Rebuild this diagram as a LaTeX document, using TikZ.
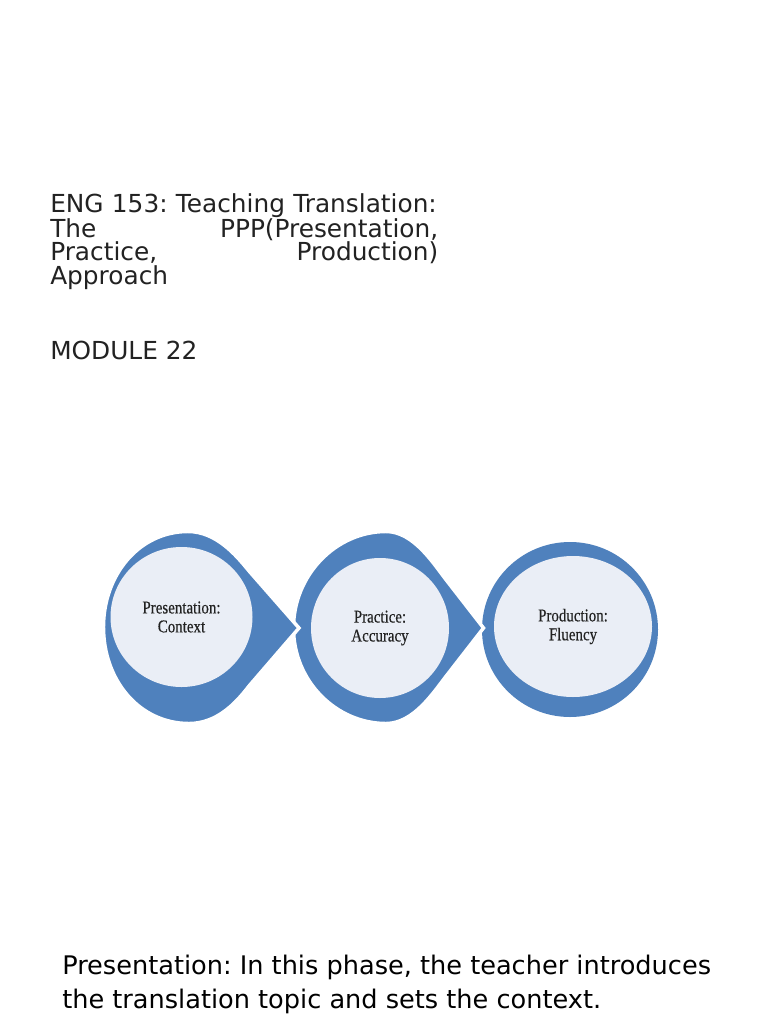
\documentclass[tikz,border=0pt]{standalone}
\usepackage{fontspec}
\setmainfont{DejaVu Sans}
\newfontfamily\stagefont[FakeStretch=0.83,FakeBold=0.4]{Liberation Serif}
\usepackage{tikz}
\usetikzlibrary{shapes.geometric}
\frenchspacing

\definecolor{pppblue}{RGB}{79,129,189}
\definecolor{ppplight}{RGB}{234,238,246}
\definecolor{headgray}{RGB}{34,34,34}

\tikzset{
    blob/.style={fill=pppblue, draw=white, line width=2.6pt},
    stage/.style={ellipse, fill=ppplight, inner sep=0pt, outer sep=0pt, align=center, text=headgray, font=\stagefont\fontsize{13.5}{14.2}\selectfont},
    heading/.style={anchor=base west, inner sep=0pt, text=headgray, font=\fontsize{18.6}{17.5}\selectfont}
}

\begin{document}
\begin{tikzpicture}[x=0.75pt,y=0.75pt,yscale=-1,xscale=1]
        \fill[white] (0,0) rectangle (768,1024);
        \useasboundingbox (0,0) rectangle (768,1024);

        % title block
        \node[heading, text width=291pt, align=left] (title) at (50,212) {\mbox{ENG 153: Teaching Translation:}\\The\hfill PPP(Presentation,\\Practice,\hfill Production)\\Approach};
        \node[heading] (module) at (50,359) {MODULE 22};

        % the three stages, drawn right to left so each tip cuts into the next one
        \fill[pppblue] (570,629.5) ellipse [x radius=88, y radius=87.5];
        \draw[blob] (483.5,628) -- (447,581) .. controls (434,564.5) and (414,531.5) .. (386,531.5) .. controls (336,531.5) and (293.5,575) .. (293.5,628) .. controls (293.5,681) and (336,723.5) .. (386,723.5) .. controls (414,723.5) and (434,691.5) .. (447,675) -- cycle;
        \draw[blob] (299,628) -- (249,571) .. controls (236,555) and (216,531.5) .. (188,531.5) .. controls (139,531.5) and (103.5,575) .. (103.5,627) .. controls (103.5,680) and (139,723.5) .. (189,723.5) .. controls (217,723.5) and (236,703) .. (249,686) -- cycle;

        \node[stage, minimum width=106.5pt, minimum height=105pt] (pres) at (181.5,617) {Presentation:\\Context};
        \node[stage, minimum width=103.5pt, minimum height=105pt] (prac) at (380,628) {Practice:\\Accuracy};
        \node[stage, minimum width=118.5pt, minimum height=105.75pt] (prod) at (573,626.5) {Production:\\Fluency};

        % note under the diagram
        \node[anchor=base west, inner sep=0pt, align=left, font=\fontsize{19.2}{25}\selectfont] (note) at (62,1008.3) {Presentation: In this phase, the teacher introduces\\the translation topic and sets the context.};
\end{tikzpicture}
\end{document}
